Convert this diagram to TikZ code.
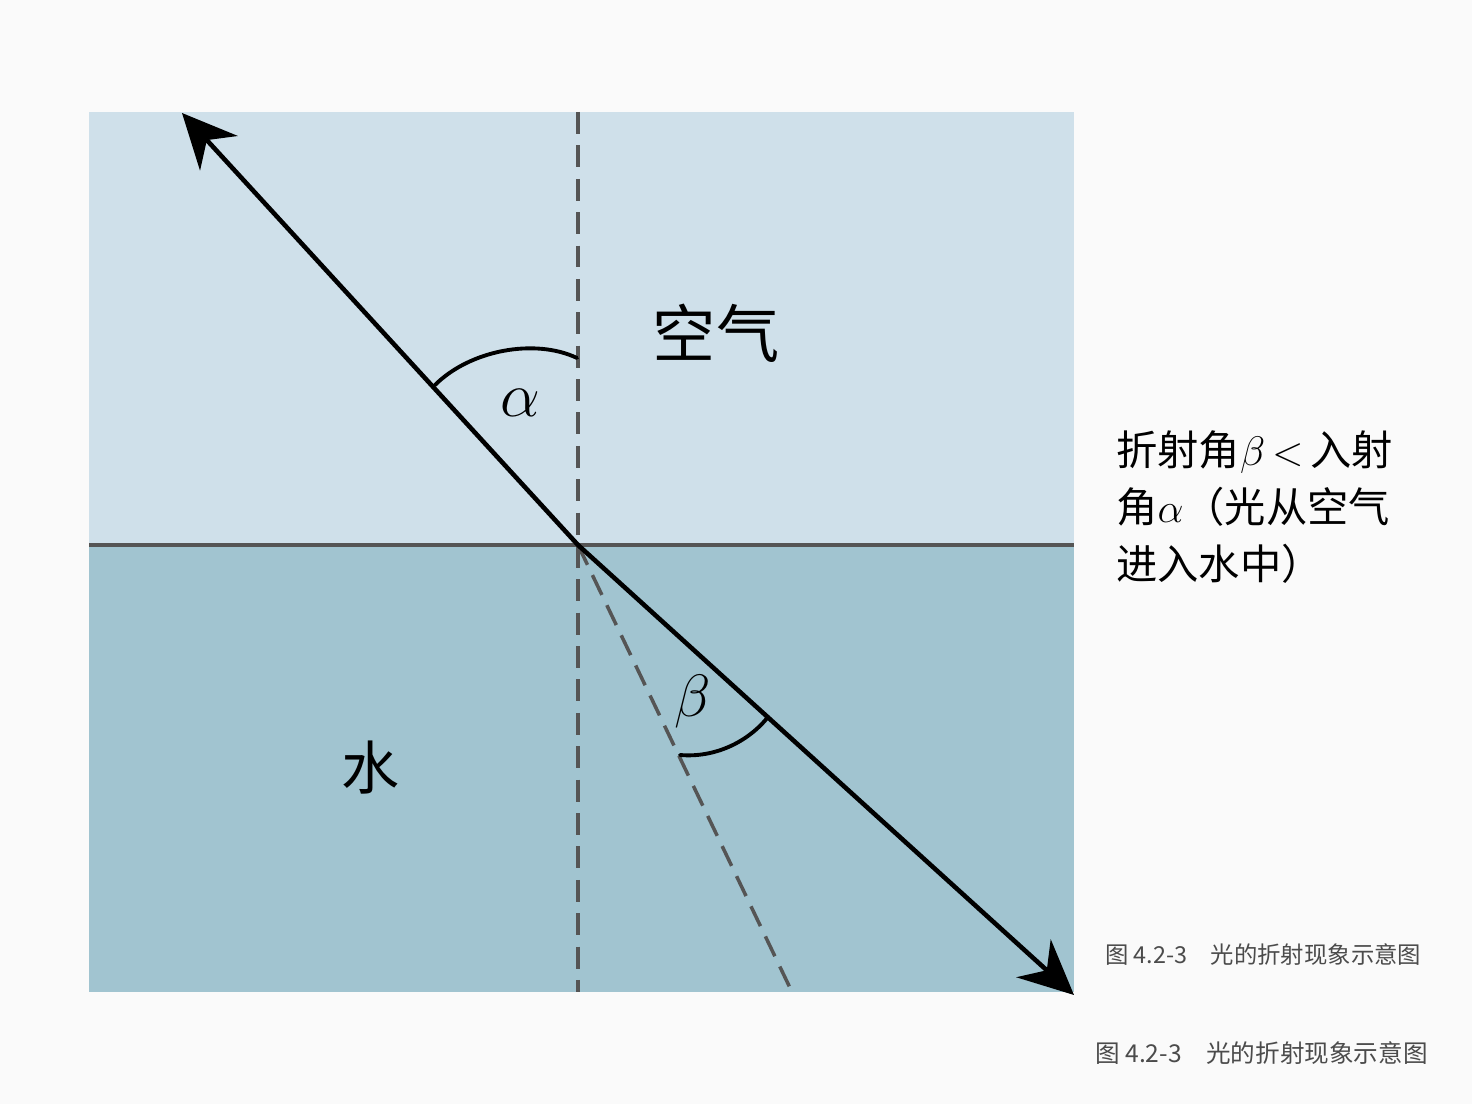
\RequirePackage{fix-cm}
\documentclass[tikz,border=0pt]{standalone}
\usepackage{fontspec}
\setmainfont{Noto Sans CJK SC}
\usetikzlibrary{arrows.meta}
\definecolor{airblue}{RGB}{207,224,234}
\definecolor{waterblue}{RGB}{161,196,208}
\definecolor{paper}{RGB}{250,250,250}
\definecolor{linegray}{RGB}{85,85,85}
\definecolor{capgray}{RGB}{75,75,75}
\tikzset{
	ray/.style = {line width = 2.6pt, {Stealth[length=31pt, width=29pt]}-{Stealth[length=31pt, width=29pt]}},
	normalline/.style = {linegray, line width = 2pt, dash pattern = on 12.5pt off 6.5pt},
	anglearc/.style = {line width = 2.2pt, line cap = round},
	caption/.style = {anchor = west, capgray, font = \fontsize{13.3}{16}\selectfont, inner sep = 0pt}
}
\begin{document}
\begin{tikzpicture}[x = 0.02cm, y = -0.02cm]
	\fill[paper] (0,0) rectangle (1472,1104);
	\useasboundingbox (0,0) rectangle (1472,1104);

	\fill[airblue]   (89,112) rectangle (1074,545);
	\fill[waterblue] (89,545) rectangle (1074,992);

	\coordinate (O)    at (578,545);
	\coordinate (top)  at (578,112);
	\coordinate (bot)  at (578,992);
	\coordinate (left) at (89,545);
	\coordinate (right) at (1074,545);
	\coordinate (tipA) at (182,113);
	\coordinate (tipB) at (1074,995);
	\coordinate (ext)  at (792,992);

	\draw[linegray, line width = 2pt] (left) -- (right);
	\draw[normalline] (top) -- (bot);
	\draw[normalline] (O) -- (ext);
%	\draw[normalline] (O) -- (tipB);

	\draw[ray] (tipA) -- (O) -- (tipB);

	\draw[anglearc] (435,385) .. controls (470,350) and (535,338) .. (577,358);
	\draw[anglearc] (680,755) .. controls (715,758) and (748,742) .. (768,717);

	\node[font = \fontsize{36}{36}\selectfont] (alpha) at (520,403) {$\alpha$};
	\node[font = \fontsize{34}{34}\selectfont] (beta)  at (693,702) {$\beta$};
	\node[font = \fontsize{36}{40}\selectfont] (air)   at (716,333) {空气};
	\node[font = \fontsize{33}{36}\selectfont] (water) at (370,768) {水};

	\node[anchor = west, align = left, inner sep = 0pt, font = \fontsize{23.5}{32.5}\selectfont] (note) at (1116,507)
		{折射角$\beta$\,$<$\,入射\\角$\alpha$（光从空气\\进入水中）};

	\node[caption] (cap1) at (1105,955) {图 4.2-3　光的折射现象示意图};
	\node[caption, font = \fontsize{14}{16}\selectfont] (cap2) at (1095,1053) {图 4.2-3　光的折射现象示意图};
\end{tikzpicture}
\end{document}
